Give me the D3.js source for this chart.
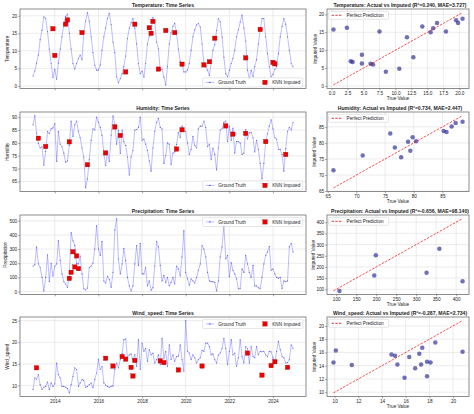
<!DOCTYPE html>
<meta charset="utf-8">
<style>
body { margin: 0; background: #fff; }
text { font-family: "Liberation Sans", Arial, sans-serif; fill: #222; }
.tick line { stroke: #444; stroke-width: 0.5; }
.grid { stroke: #d8d8d8; stroke-width: 0.5; }
.frame { fill: none; stroke: #707070; stroke-width: 0.8; }
</style>
<body>
<script src="https://d3js.org/d3.v7.min.js"></script>
<script>

// ---- data ----
var names = ["Temperature", "Humidity", "Precipitation", "Wind_speed"];
var r2Values = [0.240, 0.734, -0.656, -0.287];
var maeValues = [3.727, 2.447, 98.140, 2.734];
var startYear = 2013;
var yearTicks = [2014, 2016, 2018, 2020, 2022, 2024];

var tempTruth = [
  2.8, 4.3, 6.5, 8.8, 13.2, 15.9, 19.7, 19.3, 15.5, 10.5, 6.4, 2.4,
  4.75, 1.9, 6.5, 10.5, 14.0, 17.6, 19.8, 20.5, 15.0, 10.5, 6.4, 4.8,
  6.4, 7.8, 8.8, 7.5, 15.0, 18.5, 20.9, 18.5, 14.0, 9.5, 5.9, 4.5,
  4.5, 6.0, 10.2, 14.0, 16.5, 19.3, 20.7, 17.5, 12.5, 9.5, 2.6, 0.9,
  2.1, 3.5, 5.5, 8.5, 13.5, 16.5, 18.0, 19.2, 16.5, 12.0, 6.4, 3.5,
  4.2, 2.5, 6.4, 12.0, 14.2, 15.5, 19.5, 18.3, 12.5, 10.6, 4.5, 4.8,
  2.5, 0.3, 5.5, 12.0, 15.2, 17.0, 17.9, 15.0, 10.5, 7.0, 6.1, 4.0,
  4.0, 4.5, 6.4, 10.2, 14.0, 16.0, 17.4, 17.8, 16.8, 12.0, 6.5, 5.5,
  4.5, 3.0, 6.4, 10.2, 11.8, 15.8, 19.2, 18.3, 14.0, 8.2, 3.5, 2.6,
  4.5, 6.4, 7.8, 10.2, 14.0, 16.0, 18.2, 20.2, 16.5, 12.8, 4.5, 2.1,
  4.5, 2.6, 5.5, 7.5, 12.0, 15.9, 19.2, 19.2, 14.0, 9.2, 5.5, 2.6,
  3.3, 4.75, 5.5, 9.2, 14.0, 17.0, 19.2, 17.6, 14.0, 10.2, 6.4, 5.5
];
var tempMissing = [11, 12, 18, 19, 27, 51, 56, 64, 65, 66, 69, 73, 78, 82, 94, 97, 100, 117, 125, 132, 133];
var tempImputed = [16.3, 8.7, 17.6, 18.8, 15.2, 4.0, 17.6, 16.6, 15.0, 18.4, 4.8, 15.8, 15.2, 6.2, 6.0, 6.9, 13.6, 8.0, 16.1, 6.7, 6.3];

var humTruth = [
  87.0, 90.6, 83.8, 79.8, 78.0, 78.5, 71.3, 76.7, 84.5, 83.6, 85.5, 85.8,
  87.5, 72.8, 84.5, 79.5, 78.5, 76.0, 72.5, 73.0, 79.0, 88.5, 82.5, 87.0,
  88.5, 84.5, 82.0, 78.0, 74.5, 62.5, 66.0, 73.5, 81.0, 85.5, 85.0, 90.0,
  88.0, 86.0, 83.0, 76.0, 71.1, 76.5, 72.7, 83.0, 90.5, 87.3, 79.5, 85.0,
  75.9, 85.0, 80.5, 79.0, 74.5, 67.5, 74.5, 77.0, 85.0, 85.2, 86.0, 90.0,
  81.0, 81.5, 79.5, 77.0, 73.0, 69.0, 78.0, 84.5, 88.0, 89.5, 86.0, 85.5,
  72.0, 75.0, 80.0, 79.5, 71.5, 76.0, 76.5, 79.4, 84.0, 82.0, 86.6, 84.7,
  84.5, 80.0, 75.5, 77.5, 82.5, 79.0, 78.0, 85.5, 86.5, 86.5, 88.5, 86.0,
  78.5, 79.5, 73.5, 78.0, 75.5, 69.5, 78.0, 85.0, 85.5, 88.0, 88.5, 80.5,
  86.5, 81.0, 85.7, 76.0, 80.5, 80.5, 80.0, 75.5, 76.0, 85.2, 81.5, 84.0,
  84.0, 82.0, 76.5, 81.0, 77.5, 72.0, 66.0, 72.0, 80.4, 83.5, 86.5, 89.0,
  85.5, 82.0, 81.5, 77.5, 77.5, 75.5, 69.0, 77.8, 84.5, 86.0, 85.0, 88.0
];
var humMissing = [3, 7, 20, 30, 40, 45, 48, 79, 82, 106, 110, 117, 128, 139];
var humImputed = [81.8, 78.6, 80.4, 71.5, 76.1, 86.2, 82.9, 77.6, 85.1, 86.6, 83.4, 83.7, 80.5, 75.5];

var precipTruth = [
  180, 190, 315, 195, 170, 100, 5, 100, 260, 70, 200, 110,
  180, 195, 360, 220, 125, 70, 55, 30, 108, 416, 358, 326,
  199, 195, 250, 125, 20, 12, 25, 170, 180, 200, 300, 465,
  300, 255, 355, 75, 60, 110, 85, 30, 135, 435, 515, 230,
  125, 195, 305, 220, 100, 40, 5, 40, 195, 325, 185, 340,
  125, 125, 170, 40, 75, 10, 28, 180, 355, 315, 185, 75,
  115, 65, 100, 40, 65, 100, 55, 180, 160, 110, 245, 430,
  135, 90, 45, 90, 75, 60, 100, 150, 195, 325, 300, 245,
  135, 75, 70, 70, 65, 5, 75, 245, 315, 465, 230, 255,
  105, 205, 150, 125, 90, 20, 20, 160, 135, 255, 195, 135,
  100, 185, 40, 40, 28, 20, 100, 195, 255, 280, 320, 150,
  160, 125, 100, 95, 100, 20, 75, 70, 75, 315, 340, 280
];
var precipMissing = [20, 21, 22, 23, 24, 25];
var precipImputed = [93, 136, 281, 174, 252, 162];

var windTruth = [
  9.1, 11.8, 11.45, 12.5, 10.2, 9.1, 9.6, 9.8, 10.8, 9.1, 10.6, 9.8,
  10.4, 15.2, 12.5, 11.8, 9.8, 9.8, 9.6, 9.3, 8.3, 10.2, 12.1, 14.1,
  13.7, 9.8, 10.6, 11.4, 11.2, 9.6, 9.8, 10.2, 10.6, 9.5, 11.4, 12.9,
  16.0, 13.7, 14.4, 10.6, 10.1, 9.8, 9.6, 9.8, 9.9, 13.7, 15.2, 14.1,
  16.0, 17.4, 20.6, 20.8, 16.4, 17.1, 17.3, 15.9, 17.15, 14.4, 20.6, 13.7,
  19.8, 17.9, 18.6, 15.6, 18.3, 17.1, 17.5, 15.2, 16.0, 17.1, 14.8, 20.9,
  16.3, 17.9, 14.4, 19.4, 16.0, 17.1, 15.6, 16.7, 16.8, 19.4, 16.0, 13.3,
  25.0, 17.9, 17.5, 16.0, 17.1, 16.4, 15.2, 16.0, 16.4, 18.1, 17.9, 19.8,
  19.8, 19.0, 17.1, 17.3, 16.0, 15.2, 17.1, 17.5, 18.6, 20.9, 18.6, 14.8,
  17.9, 20.6, 17.1, 17.5, 14.4, 16.4, 20.6, 16.7, 15.2, 19.0, 18.5, 15.2,
  19.0, 16.7, 16.4, 19.0, 17.1, 17.9, 17.8, 17.9, 17.1, 16.7, 17.9, 17.8,
  16.4, 15.1, 17.9, 20.2, 18.3, 16.7, 16.4, 15.2, 15.3, 16.0, 19.4, 18.6
];
var windMissing = [2, 40, 44, 49, 51, 54, 55, 56, 70, 72, 80, 93, 118, 126, 131, 133, 140];
var windImputed = [14.1, 16.3, 14.5, 16.7, 16.1, 14.2, 12.2, 15.8, 15.7, 15.3, 13.6, 14.5, 17.5, 12.4, 14.6, 15.5, 14.2];

// tick values
var tsTicks = [[0, 5, 10, 15, 20], [65, 70, 75, 80, 85, 90], [0, 100, 200, 300, 400, 500], [10, 15, 20, 25]];
var scXTicks = [[0, 2.5, 5, 7.5, 10, 12.5, 15, 17.5, 20], [65, 70, 75, 80, 85], [100, 150, 200, 250, 300, 350, 400], [10, 12, 14, 16, 18, 20]];
var scYTicks = [[0, 5, 10, 15, 20], [65, 70, 75, 80, 85], [100, 150, 200, 250, 300, 350, 400], [10, 12, 14, 16, 18, 20]];

var allTruth = [tempTruth, humTruth, precipTruth, windTruth];
var allMissing = [tempMissing, humMissing, precipMissing, windMissing];
var allImputed = [tempImputed, humImputed, precipImputed, windImputed];

// ---- layout ----
var W = 474, H = 414;
var rowTops = [9, 112, 215, 317], rowH = 79.5;
var leftX = [20, 306], rightX = [327, 469];
var legendLoc = ["lower", "lower", "upper", "upper"];
var leftLabelX = [9, 9, 6.8, 9], rightLabelX = [317.4, 316, 315, 316];
var fs = 4.7, titleFs = 5.1;

var svg = d3.select("body").append("svg")
    .attr("width", W).attr("height", H);

var dates = tempTruth.map(function(d, i) { return new Date(startYear, i, 1); });
var yearDates = yearTicks.map(function(y) { return new Date(y, 0, 1); });

function styleAxis(sel) {
  sel.select(".domain").remove();
  sel.selectAll("text").style("font-size", fs + "px").style("fill", "#222");
}

function drawSeries(k) {
  var truth = allTruth[k], miss = allMissing[k], imp = allImputed[k];
  var top = rowTops[k], bot = top + rowH;
  var t0 = +dates[0], t1 = +dates[dates.length - 1], pad = (t1 - t0) * 0.05;
  var x = d3.scaleTime().domain([new Date(t0 - pad), new Date(t1 + pad)]).range(leftX);
  var ext = d3.extent(truth.concat(imp)), m = (ext[1] - ext[0]) * 0.05;
  var y = d3.scaleLinear().domain([ext[0] - m, ext[1] + m]).range([bot, top]);
  var g = svg.append("g");

  // grid
  g.selectAll(null).data(yearDates).enter().append("line").attr("class", "grid")
    .attr("x1", function(d) { return x(d); }).attr("x2", function(d) { return x(d); })
    .attr("y1", top).attr("y2", bot);
  g.selectAll(null).data(tsTicks[k]).enter().append("line").attr("class", "grid")
    .attr("x1", leftX[0]).attr("x2", leftX[1])
    .attr("y1", function(d) { return y(d); }).attr("y2", function(d) { return y(d); });

  // axes
  g.append("g").attr("transform", "translate(0," + bot + ")")
    .call(d3.axisBottom(x).tickValues(yearDates).tickSize(1.8).tickPadding(1.4)
      .tickFormat(k === 3 ? d3.timeFormat("%Y") : function() { return ""; }))
    .call(styleAxis);
  g.append("g").attr("transform", "translate(" + leftX[0] + ",0)")
    .call(d3.axisLeft(y).tickValues(tsTicks[k]).tickSize(1.8).tickPadding(1))
    .call(styleAxis);

  // ground truth
  var line = d3.line().x(function(d, i) { return x(dates[i]); }).y(function(d) { return y(d); });
  g.append("path").datum(truth).attr("d", line)
    .attr("fill", "none").attr("stroke", "#3333ff").attr("stroke-opacity", 0.55).attr("stroke-width", 0.6);
  g.selectAll(null).data(truth).enter().append("circle")
    .attr("cx", function(d, i) { return x(dates[i]); }).attr("cy", function(d) { return y(d); })
    .attr("r", 0.6).attr("fill", "#2222dd").attr("fill-opacity", 0.6);

  // imputed
  var s = 4.4;
  g.selectAll(null).data(imp).enter().append("rect")
    .attr("x", function(d, j) { return x(dates[miss[j]]) - s / 2; })
    .attr("y", function(d) { return y(d) - s / 2; })
    .attr("width", s).attr("height", s)
    .attr("fill", "#ee0000").attr("stroke", "#990000").attr("stroke-width", 0.3);

  g.append("rect").attr("class", "frame")
    .attr("x", leftX[0]).attr("y", top).attr("width", leftX[1] - leftX[0]).attr("height", rowH);

  // title and label
  g.append("text").attr("x", (leftX[0] + leftX[1]) / 2).attr("y", top - 2.2)
    .attr("text-anchor", "middle").style("font-size", titleFs + "px").style("font-weight", "bold")
    .text(names[k] + ": Time Series");
  g.append("text").attr("transform", "translate(" + leftLabelX[k] + "," + (top + rowH / 2) + ") rotate(-90)")
    .attr("text-anchor", "middle").style("font-size", fs + "px").text(names[k]);

  // legend
  var lw = 100, lh = 9.2;
  var lx = leftX[1] - 3.3 - lw;
  var ly = legendLoc[k] === "lower" ? bot - 1.5 - lh : top + 2.3;
  var lg = g.append("g").attr("transform", "translate(" + lx + "," + ly + ")");
  lg.append("rect").attr("width", lw).attr("height", lh).attr("rx", 1)
    .attr("fill", "#fff").attr("fill-opacity", 0.85).attr("stroke", "#cccccc").attr("stroke-width", 0.5);
  lg.append("line").attr("x1", 3).attr("x2", 11.5).attr("y1", lh / 2).attr("y2", lh / 2)
    .attr("stroke", "#3333ff").attr("stroke-opacity", 0.55).attr("stroke-width", 0.6);
  lg.append("circle").attr("cx", 7.2).attr("cy", lh / 2).attr("r", 0.6).attr("fill", "#2222dd");
  lg.append("text").attr("x", 15.5).attr("y", lh / 2 + 1.7).style("font-size", fs + "px").text("Ground Truth");
  lg.append("rect").attr("x", 62.3 - 2.2).attr("y", lh / 2 - 2.2).attr("width", 4.4).attr("height", 4.4)
    .attr("fill", "#ee0000").attr("stroke", "#990000").attr("stroke-width", 0.3);
  lg.append("text").attr("x", 69.5).attr("y", lh / 2 + 1.7).style("font-size", fs + "px").text("KNN Imputed");
}

function drawScatter(k) {
  var truth = allTruth[k], miss = allMissing[k], imp = allImputed[k];
  var top = rowTops[k], bot = top + rowH;
  var tv = miss.map(function(i) { return truth[i]; });
  var mn = Math.min(d3.min(tv), d3.min(imp)), mx = Math.max(d3.max(tv), d3.max(imp));
  var m = (mx - mn) * 0.05;
  var x = d3.scaleLinear().domain([mn - m, mx + m]).range(rightX);
  var y = d3.scaleLinear().domain([mn - m, mx + m]).range([bot, top]);
  var g = svg.append("g");

  g.selectAll(null).data(scXTicks[k]).enter().append("line").attr("class", "grid")
    .attr("x1", function(d) { return x(d); }).attr("x2", function(d) { return x(d); })
    .attr("y1", top).attr("y2", bot);
  g.selectAll(null).data(scYTicks[k]).enter().append("line").attr("class", "grid")
    .attr("x1", rightX[0]).attr("x2", rightX[1])
    .attr("y1", function(d) { return y(d); }).attr("y2", function(d) { return y(d); });

  g.append("g").attr("transform", "translate(0," + bot + ")")
    .call(d3.axisBottom(x).tickValues(scXTicks[k]).tickSize(1.8).tickPadding(1.4)
      .tickFormat(k === 0 ? d3.format(".1f") : d3.format("d")))
    .call(styleAxis);
  g.append("g").attr("transform", "translate(" + rightX[0] + ",0)")
    .call(d3.axisLeft(y).tickValues(scYTicks[k]).tickSize(1.8).tickPadding(1))
    .call(styleAxis);

  g.selectAll(null).data(imp).enter().append("circle")
    .attr("cx", function(d, j) { return x(tv[j]); }).attr("cy", function(d) { return y(d); })
    .attr("r", 2.25).attr("fill", "#1a1a90").attr("fill-opacity", 0.62);

  g.append("line").attr("x1", x(mn)).attr("y1", y(mn)).attr("x2", x(mx)).attr("y2", y(mx))
    .attr("stroke", "#ee0000").attr("stroke-opacity", 0.85).attr("stroke-width", 0.8)
    .attr("stroke-dasharray", "2.4,1.3");

  g.append("rect").attr("class", "frame")
    .attr("x", rightX[0]).attr("y", top).attr("width", rightX[1] - rightX[0]).attr("height", rowH);

  g.append("text").attr("x", (rightX[0] + rightX[1]) / 2 + 2).attr("y", top - 2.2)
    .attr("text-anchor", "middle").style("font-size", titleFs + "px").style("font-weight", "bold")
    .text(names[k] + ": Actual vs Imputed (R\u00b2=" + r2Values[k].toFixed(3) + ", MAE=" + maeValues[k].toFixed(3) + ")");
  g.append("text").attr("x", (rightX[0] + rightX[1]) / 2).attr("y", bot + 11.8)
    .attr("text-anchor", "middle").style("font-size", fs + "px").text("True Value");
  g.append("text").attr("transform", "translate(" + rightLabelX[k] + "," + (top + rowH / 2) + ") rotate(-90)")
    .attr("text-anchor", "middle").style("font-size", fs + "px").text("Imputed Value");

  var lg = g.append("g").attr("transform", "translate(" + (rightX[0] + 1.6) + "," + (top + 2.3) + ")");
  lg.append("rect").attr("width", 60).attr("height", 8).attr("rx", 1)
    .attr("fill", "#fff").attr("fill-opacity", 0.85).attr("stroke", "#cccccc").attr("stroke-width", 0.5);
  lg.append("line").attr("x1", 3).attr("x2", 14).attr("y1", 4).attr("y2", 4)
    .attr("stroke", "#ee0000").attr("stroke-width", 0.8).attr("stroke-dasharray", "2.4,1.3");
  lg.append("text").attr("x", 18).attr("y", 5.7).style("font-size", fs + "px").text("Perfect Prediction");
}

for (var k = 0; k < 4; k++) {
  drawSeries(k);
  drawScatter(k);
}

</script>
</body>
